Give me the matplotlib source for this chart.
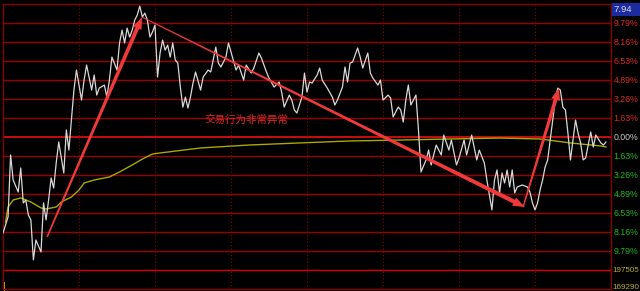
import numpy as np
import matplotlib
matplotlib.use("Agg")
from matplotlib import pyplot as plt
from matplotlib.patches import Polygon, Rectangle
from matplotlib.transforms import IdentityTransform

# intraday price: minute of session (0-240) and change vs previous close (%)
price_min = [0, 2, 3, 4, 6, 7, 8, 9, 10, 11, 12, 13, 15, 16, 17, 18, 19, 20, 21, 22,
             24, 25, 26, 27, 28, 29, 30, 31, 32, 33, 35, 36, 37, 38, 40, 41, 42, 43, 45, 46,
             47, 48, 49, 50, 51, 52, 53, 54, 55, 56, 57, 58, 59, 60, 61, 62, 63, 64, 65, 66,
             67, 68, 69, 70, 71, 72, 73, 74, 75, 76, 78, 79, 81, 82, 84, 85, 86, 88, 89, 90,
             92, 93, 95, 96, 98, 99, 101, 102, 104, 105, 107, 109, 110, 111, 113, 114, 115, 116, 118, 119,
             120, 121, 122, 124, 125, 126, 128, 130, 131, 132, 134, 135, 136, 137, 138, 140, 141, 142, 144, 145,
             146, 148, 149, 150, 152, 153, 154, 156, 157, 158, 159, 160, 161, 163, 164, 165, 167, 168, 169, 171,
             173, 174, 176, 177, 179, 180, 182, 183, 185, 187, 188, 190, 191, 193, 194, 195, 196, 197, 198, 199,
             200, 201, 202, 203, 205, 207, 208, 209, 210, 211, 212, 213, 214, 215, 216, 217, 218, 219, 220, 221,
             222, 223, 224, 225, 226, 227, 228, 229, 230, 231, 232, 233, 234, 236, 237, 238]
price_pct = [-8.24, -6.86, -1.54, -3.69, -4.72, -2.66, -5.66, -5.41, -6.69, -7.12, -10.55, -8.84, -9.87, -5.66, -7.12, -5.41, -3.52, -4.38, -2.23, -0.43,
             -3.09, 0.60, -1.12, 1.46, 4.03, 5.75, 4.46, 3.17, 4.89, 6.18, 4.03, 5.32, 3.60, 4.20, 4.46, 3.43, 4.89, 6.86, 5.75, 8.07,
             9.18, 8.07, 9.35, 8.58, 9.18, 10.04, 10.47, 11.24, 10.30, 10.64, 10.04, 8.58, 9.01, 9.61, 5.15, 7.21, 8.32, 7.46, 7.89, 6.86,
             8.07, 6.61, 6.35, 4.29, 2.57, 3.43, 2.49, 3.43, 4.63, 5.58, 4.03, 5.15, 5.75, 5.58, 7.72, 6.35, 6.01, 6.86, 8.07, 7.29,
             5.75, 6.18, 4.89, 6.18, 5.49, 5.92, 7.21, 6.78, 5.58, 5.06, 4.29, 4.72, 3.86, 2.57, 3.60, 3.17, 2.32, 2.06, 3.43, 5.49,
             3.86, 4.72, 4.63, 5.32, 5.92, 4.89, 4.20, 3.43, 2.75, 3.17, 4.29, 6.01, 4.72, 6.35, 6.44, 7.64, 6.86, 5.92, 7.21, 5.49,
             5.06, 4.46, 4.89, 3.17, 3.60, 3.35, 1.72, 2.57, 2.32, 1.29, 3.17, 4.46, 2.75, 3.60, 0.60, -3.00, -1.97, -1.12, -2.40, -0.69,
             -1.54, 0.17, -1.12, -0.26, -2.40, -1.80, -0.26, -1.54, 0.17, -1.97, -1.12, -2.23, -3.69, -6.26, -3.69, -2.83, -4.80, -3.09, -3.95, -2.83,
             -4.29, -2.83, -4.80, -4.29, -4.12, -4.29, -4.72, -5.66, -6.26, -5.66, -4.55, -3.69, -2.57, -1.97, -0.26, 1.46, 3.17, 4.20, 4.03, 2.57,
             2.32, 0.34, -1.97, -0.26, 1.46, 0.34, -0.51, -1.97, -1.80, -0.69, 0.43, -0.86, 0.17, -0.51, -0.69, -0.43]

# average price line
avg_min = [1, 2, 4, 7, 11, 15, 17, 21, 23, 27, 30, 32, 36, 42, 46, 51, 55, 59, 62, 78,
           97, 117, 137, 157, 176, 196, 212, 224, 236, 238]
avg_pct = [-7.29, -6.01, -5.41, -5.23, -5.58, -6.09, -6.18, -6.01, -5.58, -5.15, -4.55, -3.95, -3.69, -3.43, -3.00, -2.40, -1.89, -1.46, -1.37, -0.94,
           -0.69, -0.51, -0.34, -0.26, -0.17, -0.09, -0.17, -0.51, -0.77, -0.86]

# volume panel (mostly cropped off the bottom)
vol_min = [0.5]
vol_val = [179700]
vol_labels = [197505, 169290]

pct_levels = [9.79, 8.16, 6.53, 4.89, 3.26, 1.63, 0.00,
              -1.63, -3.26, -4.89, -6.53, -8.16, -9.79]
last_price = "7.94"

# hand-drawn arrows: start (minute, %) -> end (minute, %)
arrow_x0 = [17.4, 54.9, 205.3]
arrow_y0 = [-8.58, 10.30, -6.01]
arrow_x1 = [54.9, 206.0, 219.5]
arrow_y1 = [10.30, -6.01, 4.20]
note = "交易行为非常异常"

RED = "#e02828"
GREEN = "#1fb81f"
OLIVE = "#b8b020"
GRID = "#9a0000"


def tapered_arrow(ax, x0, y0, x1, y1, w0, w1, head_w=9.0, head_l=12.0, color="#f03a3a"):
    p0 = ax.transData.transform((x0, y0))
    p1 = ax.transData.transform((x1, y1))
    d = p1 - p0
    u = d / np.hypot(*d)
    n = np.array([-u[1], u[0]])
    base = p1 - u * head_l
    pts = [p0 + n * w0 / 2, base + n * w1 / 2, base + n * head_w / 2, p1,
           base - n * head_w / 2, base - n * w1 / 2, p0 - n * w0 / 2]
    ax.add_patch(Polygon(pts, closed=True, transform=IdentityTransform(),
                         facecolor=color, edgecolor="none", zorder=5))


W, H = 640, 291
fig = plt.figure(figsize=(W / 100, H / 100), dpi=100, facecolor="black")

# volume axes, its baseline far below the visible image
vax = fig.add_axes([3 / W, (H - 403) / H, 608 / W, 133 / H])
vax.set_xlim(0, 240)
vax.set_ylim(0, vol_labels[0])
vax.bar(vol_min, vol_val, width=0.35, color="#c8c000")
vax.axis("off")

ax = fig.add_axes([3 / W, 2 / H, 608 / W, 285 / H])
ax.set_facecolor("none")
ax.set_xlim(0, 240)
ax.set_ylim(-13.05, 11.42)
ax.set_xticks([])
ax.set_yticks([])
for s in ax.spines.values():
    s.set_color("#8a0000")
    s.set_linewidth(1)

for v in pct_levels:
    ax.axhline(v, color="#ff1010" if v == 0 else GRID, lw=1.1 if v == 0 else 1, zorder=1)
ax.axhline(-11.42, color="#d80000", lw=1, zorder=1)
for m in range(30, 240, 30):
    ax.axvline(m, color="#8a0000", lw=0.8, ls=(0, (1, 2)), zorder=1)

ax.plot(avg_min, avg_pct, color="#a8a800", lw=1, zorder=3)
ax.plot(price_min, price_pct, color="#d8d8d8", lw=0.9, zorder=4)

widths = [(1.6, 4.0), (1.0, 4.2), (1.4, 3.8)]
for i in range(len(arrow_x0)):
    tapered_arrow(ax, arrow_x0[i], arrow_y0[i], arrow_x1[i], arrow_y1[i], *widths[i])

ax.text(96, 1.46, note, color=RED, fontsize=7.6, ha="center", va="center",
        family=["Noto Sans CJK SC", "DejaVu Sans"], zorder=6)

lab_font = ["Liberation Sans"]
ytr = ax.get_yaxis_transform()
for v in pct_levels:
    col = RED if v > 0 else (GREEN if v < 0 else "#c8c8c8")
    ax.text(1.004, v - 0.08, f"{abs(v):.2f}%", transform=ytr, color=col, fontsize=6.3,
            ha="left", va="center", family=lab_font, clip_on=False)
for v, y in zip(vol_labels, [-11.42, -12.85]):
    ax.text(1.003, y - 0.08, str(v), transform=ytr, color=OLIVE, fontsize=5.8,
            ha="left", va="center", family=lab_font, clip_on=False)

# last price box at the top right
fig.patches.append(Rectangle((612 / W, (H - 16) / H), 28 / W, 13 / H,
                             transform=fig.transFigure, facecolor="#1c2c9e", edgecolor="none"))
fig.text(613 / W, (H - 9.5) / H, last_price, color="#d8d8e8", fontsize=6.8,
         ha="left", va="center", family=lab_font)

fig.savefig("out.png", dpi=100, facecolor="black")
